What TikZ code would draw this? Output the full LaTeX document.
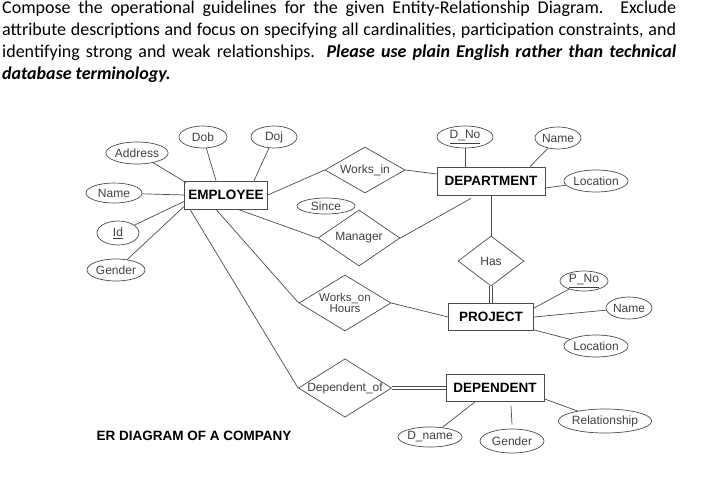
\documentclass[tikz,border=0pt]{standalone}
\usepackage{fontspec}
\setmainfont{Liberation Sans}
\newfontfamily\calib{Carlito}
\usetikzlibrary{shapes.geometric,calc}
\begin{document}
\begin{tikzpicture}[x=1pt,y=-1pt,
  ln/.style={draw=black!70,line width=0.7pt},
  att/.style={ellipse,draw=black!70,line width=0.7pt,inner sep=0pt,font=\fontsize{12}{12}\selectfont,text=black!75},
  ent/.style={rectangle,draw=black!70,line width=0.8pt,font=\bfseries\fontsize{13.5}{14}\selectfont,inner sep=0pt},
  rel/.style={diamond,draw=black!70,line width=0.7pt,inner sep=0pt,aspect=1.6,font=\fontsize{12}{12}\selectfont,text=black!75},
  dbl/.style={draw=black!70,double=white,double distance=2pt,line width=0.7pt}]
\useasboundingbox (0,0) rectangle (712,477);
\node[anchor=north west,inner sep=0pt,text width=674pt,align=justify,font=\calib\fontsize{18}{22}\selectfont] (para) at (2,1)
{Compose the operational guidelines for the given Entity-Relationship Diagram. Exclude\linebreak
attribute descriptions and focus on specifying all cardinalities, participation constraints, and\linebreak
identifying strong and weak relationships. \textbf{\textit{Please use plain English rather than technical}}\linebreak
\textbf{\textit{database terminology.}}};
% entities
\node[ent,minimum width=83pt,minimum height=28pt] (emp) at (226,195) {EMPLOYEE};
\node[ent,minimum width=108pt,minimum height=28pt] (dept) at (491,181) {DEPARTMENT};
\node[ent,minimum width=85pt,minimum height=27pt] (proj) at (491,317) {PROJECT};
\node[ent,minimum width=98pt,minimum height=27pt] (dep) at (495,388) {DEPENDENT};
% attributes
\node[att,minimum width=58pt,minimum height=22pt] (addr) at (137,153) {Address};
\node[att,minimum width=48pt,minimum height=22pt] (dob) at (203,137) {Dob};
\node[att,minimum width=46pt,minimum height=22pt] (doj) at (274,137) {Doj};
\node[att,minimum width=56pt,minimum height=20pt] (ename) at (114,193) {Name};
\node[att,minimum width=42pt,minimum height=24pt] (id) at (118,233) {\underline{Id}};
\node[att,minimum width=58pt,minimum height=22pt] (egen) at (116,270) {Gender};
\node[att,minimum width=58pt,minimum height=16pt] (since) at (326,206) {Since};
\node[att,minimum width=56pt,minimum height=22pt] (dno) at (465,137) {\underline{D\_No}};
\node[att,minimum width=46pt,minimum height=22pt] (dname) at (558,138) {Name};
\node[att,minimum width=52pt,minimum height=22pt] (dloc) at (596,181) {Location};
\node[att,minimum width=48pt,minimum height=20pt] (pno) at (584,281) {\underline{P\_No}};
\node[att,minimum width=46pt,minimum height=22pt] (pname) at (629,308) {Name};
\node[att,minimum width=56pt,minimum height=22pt] (ploc) at (596,346) {Location};
\node[att,minimum width=54pt,minimum height=20pt] (dn) at (430,437) {D\_name};
\node[att,minimum width=64pt,minimum height=24pt] (dgen) at (512,441) {Gender};
\node[att,minimum width=76pt,minimum height=24pt] (drel) at (605,421) {Relationship};
% relationships
\node[rel,minimum width=80pt,minimum height=46pt] (worksin) at (365,170) {Works\_in};
\node[rel,minimum width=82pt,minimum height=56pt] (mgr) at (359,238) {Manager};
\node[rel,minimum width=66pt,minimum height=50pt] (has) at (491,261) {Has};
\node[rel,minimum width=92pt,minimum height=56pt,align=center,font=\fontsize{11.5}{10.5}\selectfont] (workson) at (345,303) {Works\_on\\Hours};
\node[rel,minimum width=92pt,minimum height=56pt] (depof) at (345,388) {Dependent\_of};
\node[font=\bfseries\fontsize{13.5}{14}\selectfont,anchor=west] (title) at (93,436) {ER DIAGRAM OF A COMPANY};
% connectors
\draw[ln] (addr) -- ($(emp.north west)+(2,2)$);
\draw[ln] (dob) -- ($(emp.north)+(-10,0)$);
\draw[ln] (doj) -- ($(emp.north)+(28,0)$);
\draw[ln] (ename) -- (emp.west);
\draw[ln] (id) -- ($(emp.south west)+(0,-8)$);
\draw[ln] (egen) -- ($(emp.south west)+(0,-3)$);
\draw[ln] (emp.east) -- (worksin.west);
\draw[ln] (worksin.east) -- ($(dept.west)+(0,-7)$);
\draw[ln] ($(emp.south)+(12,0)$) -- (mgr.west);
\draw[ln] (mgr.east) -- ($(dept.south)+(-20,3)$);
\draw[ln] ($(emp.south)+(-10,0)$) -- (workson.west);
\draw[ln] ($(emp.south)+(-36,0)$) -- (depof.west);
\draw[ln] (dno) -- ($(dept.north)+(-26,0)$);
\draw[ln] (dname) -- ($(dept.north)+(39,0)$);
\draw[ln] (dloc) -- ($(dept.east)+(0,7)$);
\draw[ln] (dept.south) -- (has.north);
\draw[dbl] (has.south) -- (proj.north);
\draw[ln] (workson.east) -- (proj.west);
\draw[ln] (pno) -- ($(proj.north east)+(0,5)$);
\draw[ln] (pname) -- (proj.east);
\draw[ln] (ploc) -- ($(proj.south east)+(0,-1)$);
\draw[dbl] (depof.east) -- (dep.west);
\draw[ln] (dn) -- ($(dep.south)+(-20,0)$);
\draw[ln] ($(dep.south)+(16,4)$) -- ($(dgen.north)+(0,-4)$);
\draw[ln] (drel) -- ($(dep.south east)+(0,-3)$);
\end{tikzpicture}
\end{document}
